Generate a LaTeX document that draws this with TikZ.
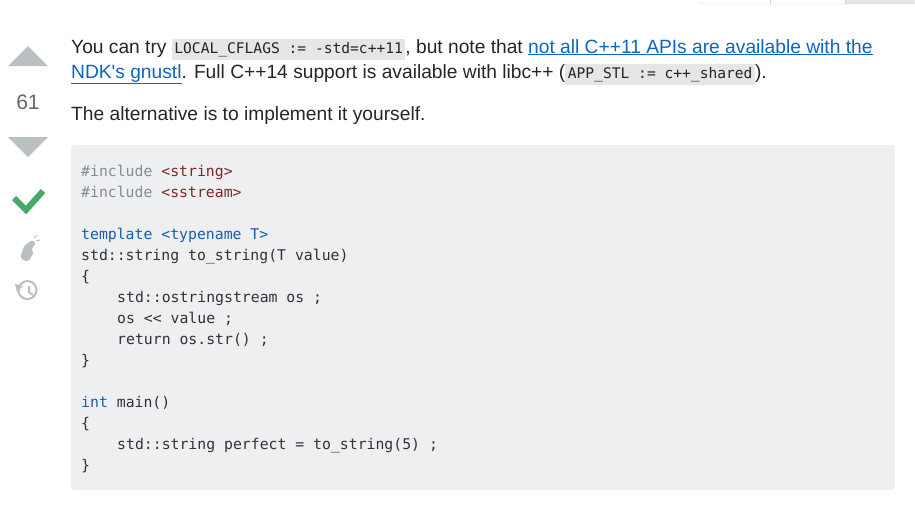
\documentclass[tikz,border=0pt]{standalone}
\usepackage{fontspec}
\setmainfont{Liberation Sans}
\setmonofont{DejaVu Sans Mono}
\definecolor{txt}{HTML}{232629}
\definecolor{lnk}{HTML}{0C65C2}
\definecolor{cbg}{HTML}{EEEFF1}
\definecolor{ibg}{HTML}{E4E6E8}
\definecolor{kw}{HTML}{1B5EA8}
\definecolor{st}{HTML}{7D2727}
\definecolor{pp}{HTML}{858C93}
\definecolor{cd}{HTML}{2F3337}
\definecolor{ico}{HTML}{BABFC4}
\definecolor{grn}{HTML}{48A868}
\newcommand{\ic}[1]{{\setlength{\fboxsep}{2.5pt}\colorbox{ibg}{\fontsize{14.6}{16}\ttfamily\strut #1}}}
\newcommand{\lk}[1]{\textcolor{lnk}{\underline{#1}}}
\begin{document}
\begin{tikzpicture}[x=1pt,y=-1pt,
  para/.style={anchor=base west,inner sep=0pt,font=\fontsize{19.2}{22}\selectfont,text=txt},
  code/.style={anchor=base west,inner sep=0pt,font=\fontsize{14.8}{17}\ttfamily,text=cd}]
\useasboundingbox (0,0) rectangle (915,512);
% top buttons
\draw[ico!70,rounded corners=2pt] (700,-5) rectangle (915,4);
\draw[ico!70] (770,-5) -- (770,4) (845,-5) -- (845,4);
\fill[ico!40] (846,-5) rectangle (914,3.5);
% vote column
\fill[ico] (8,66) -- (48,66) -- (28,46) -- cycle;
\node[anchor=base,inner sep=0pt,font=\fontsize{21}{24}\selectfont,text=black!60] (votes) at (28,109) {61};
\fill[ico] (8,137) -- (48,137) -- (28,157) -- cycle;
\draw[grn,line width=6pt] (14,198) -- (26,210) -- (43,191);
% clap icon (approx)
\begin{scope}[ico]
\fill[rounded corners=2pt] (20,258) -- (24,246) -- (32,240) -- (36,243) -- (31,250) -- (34,252) -- (28,262) -- cycle;
\draw[line width=1pt] (34,238) -- (37,235) (36,241) -- (40,240);
\end{scope}
% history icon
\draw[ico,line width=2pt] (19,287) arc[start angle=200,end angle=-150,radius=9];
\fill[ico] (15,284) -- (23,286) -- (17,292) -- cycle;
\draw[ico,line width=2pt] (29,286) -- (29,292) -- (33,295);
% text
\node[para] (l1) at (71,53) {You can try \ic{LOCAL\_CFLAGS := -std=c++11}, but note that \lk{not all C++11 APIs are available with the}};
\node[para] (l2) at (71,78) {\lk{NDK\textquotesingle s gnustl}. Full C++14 support is available with libc++ (\ic{APP\_STL := c++\_shared}).};
\node[para] (l3) at (71,120) {The alternative is to implement it yourself.};
% code block
\fill[cbg,rounded corners=3pt] (71,145) rectangle (895,490);
\node[code] (c1) at (81,176) {\textcolor{pp}{\#include} \textcolor{st}{<string>}};
\node[code] (c2) at (81,197) {\textcolor{pp}{\#include} \textcolor{st}{<sstream>}};
\node[code] (c3) at (81,239) {\textcolor{kw}{template <typename T>}};
\node[code] (c4) at (81,260) {std::string to\_string(T value)};
\node[code] (c5) at (81,281) {\{};
\node[code] (c6) at (117,302) {std::ostringstream os ;};
\node[code] (c7) at (117,323) {os << value ;};
\node[code] (c8) at (117,344) {return os.str() ;};
\node[code] (c9) at (81,365) {\}};
\node[code] (c10) at (81,407) {\textcolor{kw}{int} main()};
\node[code] (c11) at (81,428) {\{};
\node[code] (c12) at (117,449) {std::string perfect = to\_string(5) ;};
\node[code] (c13) at (81,470) {\}};
\end{tikzpicture}
\end{document}
